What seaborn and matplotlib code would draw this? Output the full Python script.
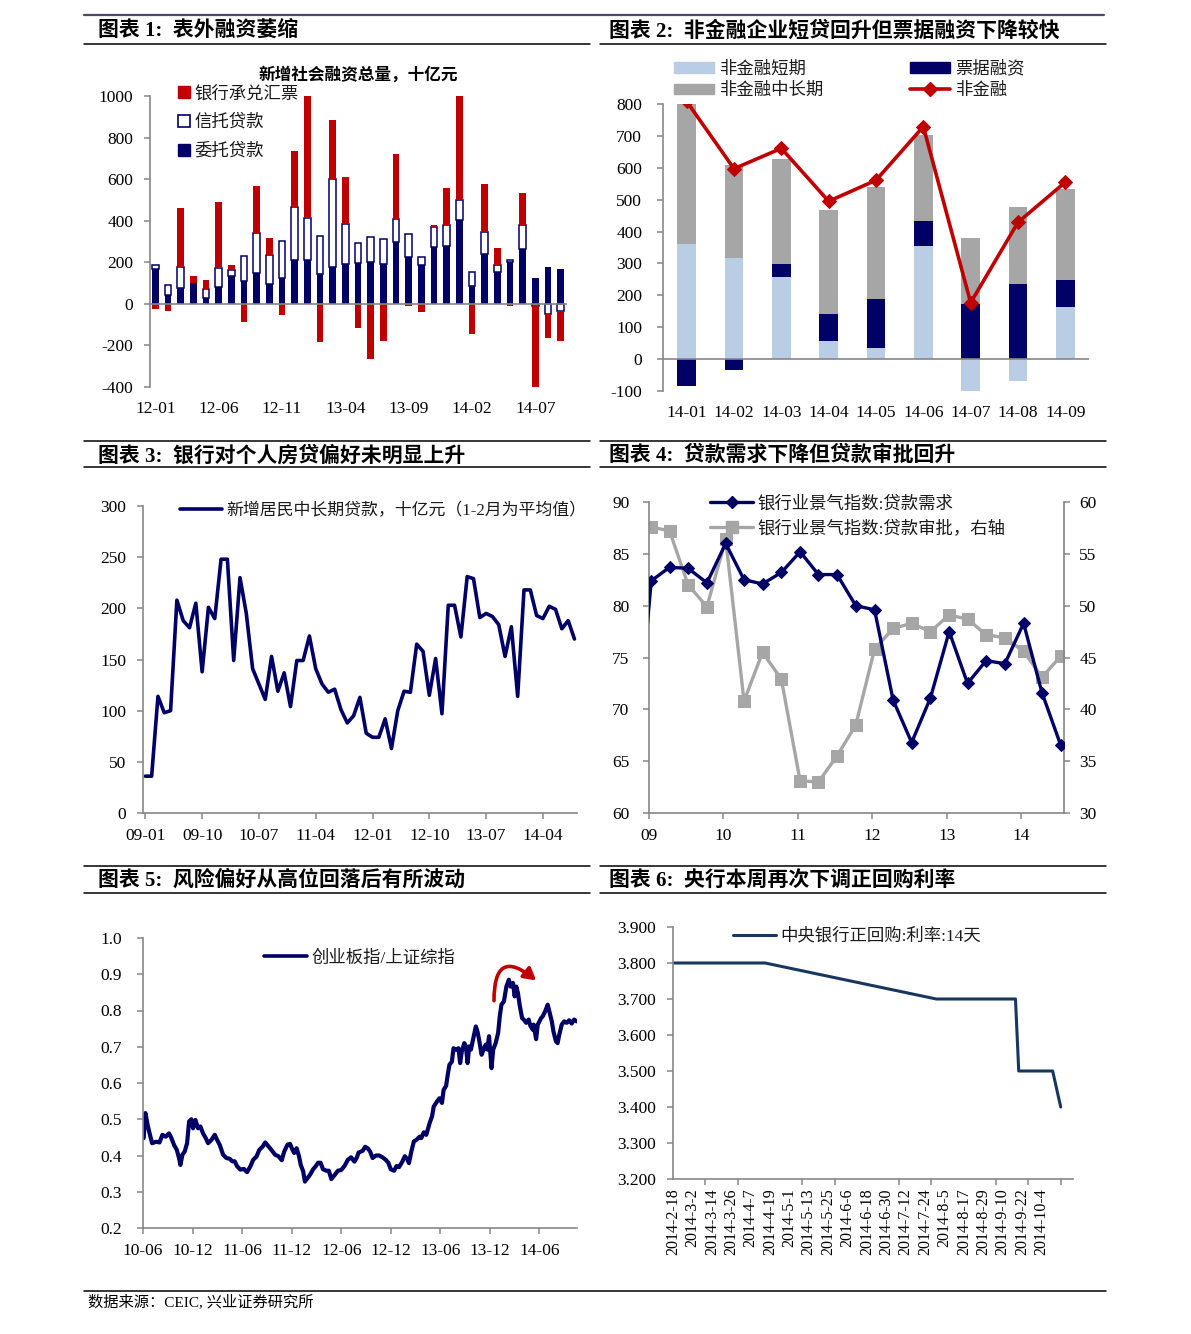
import numpy as np
import pandas as pd
import matplotlib
matplotlib.use("Agg")
import matplotlib.pyplot as plt
import seaborn as sns
from matplotlib.patches import Patch, FancyArrowPatch
from matplotlib.lines import Line2D
import matplotlib.dates as mdates
from matplotlib.ticker import FormatStrFormatter, FixedLocator

# ---------------- data ----------------
# Panel 1: 新增社会融资总量 (十亿元)
months1 = ['12-01', '12-02', '12-03', '12-04', '12-05', '12-06', '12-07', '12-08', '12-09', '12-10', '12-11', '12-12',
           '13-01', '13-02', '13-03', '13-04', '13-05', '13-06', '13-07', '13-08', '13-09', '13-10', '13-11', '13-12',
           '14-01', '14-02', '14-03', '14-04', '14-05', '14-06', '14-07', '14-08', '14-09']
entrusted = [169, 44, 77, 102, 26, 82, 134, 108, 147, 97, 124, 210, 210, 145, 179, 194, 198, 202, 194, 297, 224, 185,
             274, 276, 402, 84, 242, 153, 202, 265, 123, 176, 166]
trust = [20, 48, 99, 0, 47, 92, 27, 121, 195, 137, 179, 255, 203, 181, 424, 188, 97, 119, 116, 113, 110, 42, 95, 103,
         98, 69, 103, 34, 9, 114, -11, -48, -32]
acceptance = [-24, -32, 287, 33, 43, 318, 28, -89, 223, 81, -53, 270, 587, -185, 281, 229, -118, -266, -181, 313, -8,
              -37, 10, 176, 498, -145, 232, 84, -11, 152, -395, -118, -145]

# Panel 2
months2 = ['14-01', '14-02', '14-03', '14-04', '14-05', '14-06', '14-07', '14-08', '14-09']
nf_short = [360, 316, 258, 56, 35, 355, -108, -70, 163]
bills = [-84, -35, 40, 86, 154, 79, 172, 237, 86]
nf_midlong = [442, 292, 328, 325, 351, 270, 209, 241, 285]
nonfin_total = [808, 597, 661, 495, 561, 729, 177, 429, 555]

# Panel 3: 新增居民中长期贷款 09-01 .. 14-09
months3 = ['09-01', '09-02', '09-03', '09-04', '09-05', '09-06', '09-07', '09-08', '09-09', '09-10', '09-11', '09-12',
           '10-01', '10-02', '10-03', '10-04', '10-05', '10-06', '10-07', '10-08', '10-09', '10-10', '10-11', '10-12',
           '11-01', '11-02', '11-03', '11-04', '11-05', '11-06', '11-07', '11-08', '11-09', '11-10', '11-11', '11-12',
           '12-01', '12-02', '12-03', '12-04', '12-05', '12-06', '12-07', '12-08', '12-09', '12-10', '12-11', '12-12',
           '13-01', '13-02', '13-03', '13-04', '13-05', '13-06', '13-07', '13-08', '13-09', '13-10', '13-11', '13-12',
           '14-01', '14-02', '14-03', '14-04', '14-05', '14-06', '14-07', '14-08', '14-09']
household_ml = [36, 36, 114, 98, 100, 208, 188, 181, 205, 138, 201, 190,
                248, 248, 149, 230, 195, 141, 126, 111, 153, 119, 137, 104,
                149, 149, 173, 141, 126, 118, 121, 101, 88, 95, 113, 78,
                74, 74, 92, 63, 100, 119, 118, 165, 158, 115, 151, 97,
                203, 203, 172, 231, 229, 191, 195, 192, 184, 153, 182, 114,
                218, 218, 193, 190, 202, 199, 180, 188, 170]

# Panel 4: 银行业景气指数 (quarterly)
quarters4 = ['2008-10', '2009-01', '2009-04', '2009-07', '2009-10', '2010-01', '2010-04', '2010-07', '2010-10',
             '2011-01', '2011-04', '2011-07', '2011-10', '2012-01', '2012-04', '2012-07', '2012-10',
             '2013-01', '2013-04', '2013-07', '2013-10', '2014-01', '2014-04', '2014-07']
loan_demand = [61.9, 82.4, 83.7, 83.6, 82.2, 86.0, 82.5, 82.1, 83.2, 85.2, 83.0, 83.0, 80.0, 79.6, 70.9, 66.8, 71.1,
               77.5, 72.5, 74.7, 74.4, 78.3, 71.6, 66.6]
loan_approval = [np.nan, 57.6, 57.2, 52.0, 49.9, 56.4, 40.8, 45.5, 42.9, 33.1, 33.0, 35.5, 38.5, 45.8, 47.8, 48.3,
                 47.5, 49.1, 48.7, 47.2, 46.9, 45.6, 43.1, 45.1]

# Panel 5: 创业板指/上证综指 (months since 2010-06)
ratio_month = [0.08, 0.29, 0.6, 0.8, 1.1, 1.6, 2.0, 2.35, 2.75, 3.15, 3.44, 3.76, 4.1, 4.37, 4.53, 4.77, 5.05, 5.34,
               5.58, 5.86, 6.06, 6.35, 6.67, 6.95, 7.27, 7.6, 7.88, 8.28, 8.69, 8.97, 9.3, 9.7, 10.1, 10.5, 10.8,
               11.1, 11.4, 11.8, 12.2, 12.6, 13.0, 13.34, 13.74, 14.07, 14.5, 14.8, 15.2, 15.6, 16.0, 16.4, 16.8,
               17.1, 17.5, 17.8, 18.1, 18.3, 18.6, 18.9, 19.1, 19.4, 19.6, 19.9, 20.2, 20.6, 20.9, 21.2, 21.5, 21.8,
               22.2, 22.5, 22.8, 23.2, 23.6, 24.0, 24.4, 24.8, 25.2, 25.6, 25.9, 26.1, 26.6, 26.9, 27.2, 27.5, 27.8,
               28.2, 28.6, 29.0, 29.4, 29.7, 30.0, 30.4, 30.7, 31.0, 31.4, 31.7, 32.0, 32.2, 32.5, 32.8, 33.1, 33.5,
               33.7, 34.0, 34.3, 34.7, 35.0, 35.2, 35.6, 35.9, 36.2, 36.4, 36.7, 36.9, 37.1, 37.4, 37.6, 37.9, 38.2,
               38.4, 38.6, 38.9, 39.1, 39.3, 39.5, 39.7, 40.0, 40.3, 40.5, 40.7, 41.0, 41.3, 41.5, 41.7, 41.9, 42.2,
               42.4, 42.7, 43.0, 43.2, 43.4, 43.7, 44.0, 44.3, 44.5, 44.8, 45.0, 45.2, 45.4, 45.6, 45.9, 46.1, 46.4,
               46.7, 46.9, 47.2, 47.3, 47.6, 47.8, 48.2, 48.4, 48.7, 49.0, 49.2, 49.5, 49.7, 50.0, 50.2, 50.4, 50.7,
               51.0, 51.3, 51.6, 51.9, 52.2, 52.5]
ratio_value = [.448, .517, .480, .461, .434, .438, .436, .457, .452, .461, .448, .429, .415, .392, .374, .402, .411,
               .434, .494, .500, .475, .498, .475, .480, .461, .448, .434, .443, .457, .443, .429, .402, .393, .391,
               .384, .384, .370, .361, .363, .354, .370, .388, .397, .415, .425, .436, .425, .414, .402, .398, .387,
               .411, .430, .432, .416, .407, .420, .397, .374, .356, .328, .337, .346, .362, .370, .380, .380, .362,
               .358, .358, .335, .346, .358, .360, .371, .388, .395, .383, .395, .408, .413, .424, .420, .411, .393,
               .400, .400, .395, .388, .380, .362, .358, .371, .368, .383, .398, .390, .379, .412, .439, .443, .452,
               .448, .464, .457, .489, .508, .535, .549, .558, .545, .581, .592, .623, .650, .659, .696, .692, .696,
               .655, .687, .710, .701, .655, .701, .692, .724, .756, .742, .719, .678, .696, .706, .692, .729, .641,
               .692, .710, .738, .784, .816, .825, .866, .885, .866, .876, .839, .866, .848, .816, .779, .775, .766,
               .775, .758, .747, .761, .721, .761, .779, .784, .798, .816, .798, .770, .742, .715, .710, .733, .761,
               .770, .766, .773, .764, .775, .770]
ratio_ticks = ['10-06', '10-12', '11-06', '11-12', '12-06', '12-12', '13-06', '13-12', '14-06']

# Panel 6: 中央银行正回购:利率:14天
dates6 = ['2014-02-18', '2014-04-16', '2014-07-31', '2014-09-18', '2014-09-20', '2014-10-11', '2014-10-16']
repo14 = [3.8, 3.8, 3.7, 3.7, 3.5, 3.5, 3.4]
labels6 = ['2014-2-18', '2014-3-2', '2014-3-14', '2014-3-26', '2014-4-7', '2014-4-19', '2014-5-1', '2014-5-13',
           '2014-5-25', '2014-6-6', '2014-6-18', '2014-6-30', '2014-7-12', '2014-7-24', '2014-8-5', '2014-8-17',
           '2014-8-29', '2014-9-10', '2014-9-22', '2014-10-4']

# ---------------- style ----------------
W, H = 1191, 1334
sns.set_theme(style="ticks")
plt.rcParams['font.family'] = ['Liberation Serif', 'Noto Sans CJK SC']
plt.rcParams['axes.unicode_minus'] = False

NAVY = '#000066'
RED = '#C00000'
LBLUE = '#B9CDE5'
GRAY = '#A6A6A6'
SPINE = '#868686'
TXT = '#1a1a1a'

fig = plt.figure(figsize=(W / 100, H / 100), dpi=100)


def add_ax(l, t, r, b):
    return fig.add_axes([l / W, 1 - b / H, (r - l) / W, (b - t) / H])


def fx(x):
    return x / W


def fy(y):
    return 1 - y / H


def base_style(ax, ypad=8, xpad=8):
    for s in ['top', 'right']:
        ax.spines[s].set_visible(False)
    for s in ['left', 'bottom']:
        ax.spines[s].set_color(SPINE)
        ax.spines[s].set_linewidth(1.2)
    ax.tick_params(axis='both', colors=SPINE, labelcolor='black', labelsize=12.5, length=4, width=1.1,
                   direction='out')
    ax.tick_params(axis='y', pad=ypad)
    ax.tick_params(axis='x', pad=xpad)
    ax.set_xlabel('')
    ax.set_ylabel('')
    ax.grid(False)


def stacked(ax, x, series, width):
    n = len(x)
    pos_b = np.zeros(n)
    neg_b = np.zeros(n)
    for vals, fc, ec, lw in series:
        v = np.array(vals, dtype=float)
        bottom = np.where(v >= 0, pos_b, neg_b)
        ax.bar(x, v, bottom=bottom, width=width, color=fc, edgecolor=ec, linewidth=lw, zorder=3)
        pos_b += np.clip(v, 0, None)
        neg_b += np.clip(v, None, 0)


# ---------------- header lines and titles ----------------
def hline(y, x0, x1, color='black', lw=1.0):
    fig.add_artist(Line2D([fx(x0), fx(x1)], [fy(y), fy(y)], color=color, lw=lw))


hline(15, 84, 1104, color='#4a4a6a', lw=1.6)
hline(44, 84, 590, lw=1.1)
hline(44, 600, 1106, lw=1.1)
for y in (441, 467, 866, 893):
    hline(y, 84, 590, lw=1.1)
    hline(y, 600, 1106, lw=1.1)
hline(1291, 84, 1106, lw=1.1)

titles = [(98, 31, '图表 1:  表外融资萎缩'), (609, 31, '图表 2:  非金融企业短贷回升但票据融资下降较快'),
          (98, 456, '图表 3:  银行对个人房贷偏好未明显上升'), (609, 456, '图表 4:  贷款需求下降但贷款审批回升'),
          (98, 881, '图表 5:  风险偏好从高位回落后有所波动'), (609, 881, '图表 6:  央行本周再次下调正回购利率')]
for x, y, t in titles:
    fig.text(fx(x), fy(y), t, ha='left', va='center', fontsize=15, fontweight='bold', color='black')
fig.text(fx(88), fy(1302), '数据来源：CEIC, 兴业证券研究所', ha='left', va='center', fontsize=11, color='black')

# ---------------- Panel 1 ----------------
ax1 = add_ax(150, 96, 567, 387)
x1 = np.arange(len(months1))
stacked(ax1, x1, [(entrusted, NAVY, NAVY, 0.0), (trust, 'white', NAVY, 1.1), (acceptance, RED, RED, 0.0)], 0.55)
ax1.axhline(0, color=SPINE, lw=1.2, zorder=4)
ax1.set_xlim(-0.42, 32.5)
ax1.set_ylim(-400, 1000)
ax1.set_yticks(np.arange(-400, 1001, 200))
base_style(ax1, ypad=8, xpad=10)
ax1.spines['bottom'].set_visible(False)
ax1.set_xticks(x1[::5])
ax1.set_xticklabels(months1[::5])
ax1.tick_params(axis='x', length=0)
fig.text(fx(358), fy(75), '新增社会融资总量，十亿元', ha='center', va='center', fontsize=12, fontweight='bold',
         color='black')
h1 = [Patch(facecolor=RED, edgecolor=RED, label='银行承兑汇票'),
      Patch(facecolor='white', edgecolor=NAVY, linewidth=1.2, label='信托贷款'),
      Patch(facecolor=NAVY, edgecolor=NAVY, label='委托贷款')]
ax1.legend(handles=h1, loc='upper left', bbox_to_anchor=(fx(178), fy(86)), bbox_transform=fig.transFigure,
           frameon=False, fontsize=12.5, handlelength=0.7, handleheight=0.7, handletextpad=0.25, labelspacing=0.7,
           borderpad=0, borderaxespad=0, labelcolor=TXT)

# ---------------- Panel 2 ----------------
ax2 = add_ax(663, 104, 1089, 391)
x2 = np.arange(len(months2))
stacked(ax2, x2, [(nf_short, LBLUE, LBLUE, 0), (bills, NAVY, NAVY, 0), (nf_midlong, GRAY, GRAY, 0)], 0.4)
sns.lineplot(x=x2, y=nonfin_total, ax=ax2, color=RED, lw=2.6, marker='D', markersize=7, markeredgecolor=RED,
             zorder=5, errorbar=None)
ax2.axhline(0, color=SPINE, lw=1.2, zorder=4)
ax2.set_xlim(-0.5, 8.5)
ax2.set_ylim(-100, 800)
ax2.set_yticks(np.arange(-100, 801, 100))
base_style(ax2, ypad=11, xpad=10)
ax2.spines['bottom'].set_visible(False)
ax2.set_xticks(x2)
ax2.set_xticklabels(months2)
ax2.tick_params(axis='x', length=0)
h2 = [Patch(facecolor=LBLUE, edgecolor=LBLUE, label='非金融短期'),
      Patch(facecolor=GRAY, edgecolor=GRAY, label='非金融中长期'),
      Patch(facecolor=NAVY, edgecolor=NAVY, label='票据融资'),
      Line2D([], [], color=RED, lw=2.6, marker='D', markersize=7, label='非金融')]
ax2.legend(handles=h2, loc='upper left', bbox_to_anchor=(fx(674), fy(61)), bbox_transform=fig.transFigure,
           ncol=2, frameon=False, fontsize=12.5, handlelength=2.3, handleheight=0.55, handletextpad=0.3,
           labelspacing=0.3, columnspacing=5.0, borderpad=0, borderaxespad=0, labelcolor=TXT)

# ---------------- Panel 3 ----------------
ax3 = add_ax(143, 506, 577, 813)
x3 = np.arange(len(months3))
sns.lineplot(x=x3, y=household_ml, ax=ax3, color=NAVY, lw=2.6, errorbar=None)
ax3.set_xlim(-0.37, 68.4)
ax3.set_ylim(0, 300)
ax3.set_yticks(np.arange(0, 301, 50))
base_style(ax3, ypad=8, xpad=7)
ax3.set_xticks(x3[::9])
ax3.set_xticklabels(months3[::9])
ax3.legend(handles=[Line2D([], [], color=NAVY, lw=2.6, label='新增居民中长期贷款，十亿元（1-2月为平均值）')],
           loc='upper left', bbox_to_anchor=(fx(180), fy(503)), bbox_transform=fig.transFigure, frameon=False,
           fontsize=12.2, handlelength=2.5, handletextpad=0.25, borderpad=0, borderaxespad=0, labelcolor=TXT)

# ---------------- Panel 4 ----------------
ax4 = add_ax(649, 502, 1064, 813)
d4 = pd.to_datetime(quarters4) + pd.Timedelta(days=11)
ax4r = ax4.twinx()
sns.lineplot(x=d4, y=loan_approval, ax=ax4r, color=GRAY, lw=2.4, marker='s', markersize=8, markeredgecolor=GRAY,
             errorbar=None)
sns.lineplot(x=d4, y=loan_demand, ax=ax4, color=NAVY, lw=2.4, marker='D', markersize=6, markeredgecolor=NAVY,
             errorbar=None, zorder=5)
ax4.set_zorder(ax4r.get_zorder() + 1)
ax4.patch.set_visible(False)
xl4 = (pd.Timestamp('2009-01-01'), pd.Timestamp('2014-07-29'))
ax4.set_xlim(xl4)
ax4.set_ylim(60, 90)
ax4.set_yticks(np.arange(60, 91, 5))
ax4r.set_ylim(30, 60)
ax4r.set_yticks(np.arange(30, 61, 5))
base_style(ax4, ypad=10, xpad=7)
for s in ['top', 'left', 'bottom']:
    ax4r.spines[s].set_visible(False)
ax4r.spines['right'].set_color(SPINE)
ax4r.spines['right'].set_linewidth(1.2)
ax4r.tick_params(axis='y', colors=SPINE, labelcolor='black', labelsize=12.5, length=4, width=1.1, pad=7)
ax4r.set_ylabel('')
ax4r.grid(False)
ax4.xaxis.set_major_locator(mdates.YearLocator())
ax4.xaxis.set_major_formatter(mdates.DateFormatter('%y'))
h4 = [Line2D([], [], color=NAVY, lw=2.4, marker='D', markersize=6, label='银行业景气指数:贷款需求'),
      Line2D([], [], color=GRAY, lw=2.4, marker='s', markersize=8, label='银行业景气指数:贷款审批，右轴')]
ax4.legend(handles=h4, loc='upper left', bbox_to_anchor=(fx(710), fy(496)), bbox_transform=fig.transFigure,
           frameon=False, fontsize=12.5, handlelength=2.5, handletextpad=0.25, labelspacing=0.45, borderpad=0,
           borderaxespad=0, numpoints=1, labelcolor=TXT)

# ---------------- Panel 5 ----------------
ax5 = add_ax(143, 938, 577, 1228)
start5 = pd.Timestamp('2010-06-01')
d5 = start5 + pd.to_timedelta(np.array(ratio_month) * 30.4375, unit='D')
sns.lineplot(x=d5, y=ratio_value, ax=ax5, color=NAVY, lw=3.0, errorbar=None)
ax5.set_xlim(start5, start5 + pd.Timedelta(days=52.55 * 30.4375))
ax5.set_ylim(0.2, 1.0)
ax5.set_yticks(np.arange(0.2, 1.01, 0.1))
ax5.yaxis.set_major_formatter(FormatStrFormatter('%.1f'))
base_style(ax5, ypad=11, xpad=7)
tick5 = pd.to_datetime(['20' + t + '-01' for t in ratio_ticks])
ax5.set_xticks(tick5)
ax5.set_xticklabels(ratio_ticks)
a_start = (mdates.date2num(start5 + pd.Timedelta(days=42.5 * 30.4375)), 0.827)
a_end = (mdates.date2num(start5 + pd.Timedelta(days=47.6 * 30.4375)), 0.883)
arr = FancyArrowPatch(a_start, a_end, connectionstyle='arc3,rad=-1.05', arrowstyle='-|>,head_length=7,head_width=4',
                      color=RED, lw=2.6, zorder=6, shrinkA=0, shrinkB=0)
ax5.add_patch(arr)
ax5.legend(handles=[Line2D([], [], color=NAVY, lw=2.6, label='创业板指/上证综指')], loc='upper left',
           bbox_to_anchor=(fx(264), fy(950)), bbox_transform=fig.transFigure, frameon=False, fontsize=12.5,
           handlelength=2.5, handletextpad=0.25, borderpad=0, borderaxespad=0, labelcolor=TXT)

# ---------------- Panel 6 ----------------
ax6 = add_ax(673, 927, 1073, 1179)
d6 = pd.to_datetime(dates6)
sns.lineplot(x=d6, y=repo14, ax=ax6, color='#17375E', lw=2.2, errorbar=None)
x0_6 = pd.Timestamp('2014-02-18')
ax6.set_xlim(x0_6, x0_6 + pd.Timedelta(days=247.6))
ax6.set_ylim(3.2, 3.9)
ax6.set_yticks(np.arange(3.2, 3.91, 0.1))
ax6.yaxis.set_major_formatter(FormatStrFormatter('%.3f'))
base_style(ax6, ypad=8, xpad=7)
ax6.set_xticks(pd.to_datetime(labels6))
ax6.set_xticklabels(labels6, rotation=90, fontsize=11.5, va='top', ha='center')
ax6.tick_params(axis='x', which='major', length=0)
ax6.xaxis.set_minor_locator(FixedLocator(mdates.date2num(pd.date_range(x0_6, periods=13, freq='20D'))))
ax6.tick_params(axis='x', which='minor', length=4, width=1.1, colors=SPINE, direction='out')
ax6.legend(handles=[Line2D([], [], color='#17375E', lw=2.2, label='中央银行正回购:利率:14天')], loc='upper left',
           bbox_to_anchor=(fx(733), fy(928)), bbox_transform=fig.transFigure, frameon=False, fontsize=12.5,
           handlelength=2.5, handletextpad=0.25, borderpad=0, borderaxespad=0, labelcolor=TXT)

fig.savefig('out.png', dpi=100, facecolor='white')
